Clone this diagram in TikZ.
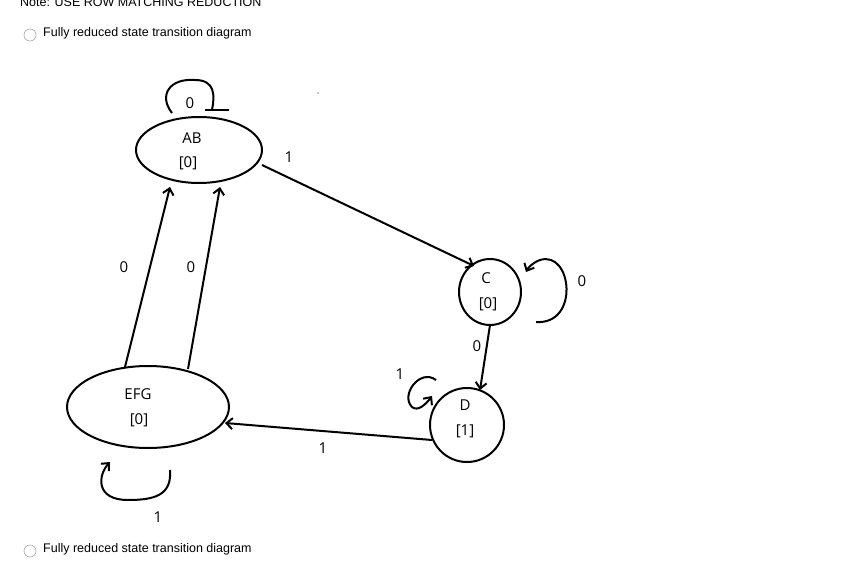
\documentclass[tikz,border=0pt]{standalone}
\usepackage{fontspec}
\setmainfont{Open Sans}
\newfontfamily\uifont{Liberation Sans}
\usetikzlibrary{arrows.meta}
\begin{document}
\begin{tikzpicture}[x=1pt,y=-1pt,
  st/.style={draw,line width=2pt},
  ed/.style={line width=2pt,-{Straight Barb[length=6pt,width=11pt]}},
  lb/.style={font=\fontsize{15}{17}\selectfont,inner sep=0pt},
  ui/.style={font=\uifont\fontsize{12.5}{14}\selectfont,anchor=west,inner sep=0pt},
  radio/.style={draw=gray!70,circle,minimum size=12pt,inner sep=0pt,line width=0.6pt}]
\useasboundingbox (0,0) rectangle (866,580);
\node[ui] (note) at (20,2) {Note: USE ROW MATCHING REDUCTION};
\node[radio] (r1) at (30,35) {};
\node[ui] (t1) at (43,33) {Fully reduced state transition diagram};
\node[radio] (r2) at (30,551) {};
\node[ui] (t2) at (43,549) {Fully reduced state transition diagram};
\fill (318,93) circle (0.7pt);
\draw[st] (199,150) ellipse (63 and 33);
\draw[st] (490,292) ellipse (31 and 33);
\draw[st] (467,425) ellipse (37 and 37);
\draw[st] (148,407) ellipse (81 and 41);
\node[lb] (ab) at (192,138) {AB}; \node[lb] (ab2) at (188,163) {[0]};
\node[lb] (c) at (486,278) {C}; \node[lb] (c2) at (488,304) {[0]};
\node[lb] (d) at (465,405) {D}; \node[lb] (d2) at (465,431) {[1]};
\node[lb] (e) at (138,394) {EFG}; \node[lb] (e2) at (139,420) {[0]};
\coordinate (a1) at (262,165); \coordinate (a2) at (474,266);
\draw[ed] (a1) -- (a2);
\node[lb] at (289,157) {1};
\coordinate (e1) at (125,367); \coordinate (b1) at (170,187);
\coordinate (e2) at (188,369); \coordinate (b2) at (220,187);
\draw[ed] (e1) -- (b1); \draw[ed] (e2) -- (b2);
\node[lb] at (124,267) {0}; \node[lb] at (191,267) {0};
\coordinate (c1) at (490,325); \coordinate (d1) at (480,390);
\draw[ed] (c1) -- (d1); \node[lb] at (477,346) {0};
\coordinate (d3) at (432,440); \coordinate (e3) at (225,423);
\draw[ed] (d3) -- (e3); \node[lb] at (323,448) {1};
% self loops
\draw[line width=2pt] (172,113) .. controls (158,95) and (170,78) .. (195,80) .. controls (215,80) and (215,95) .. (212,110);
\draw[line width=2pt] (205,110) -- (229,110);
\node[lb] at (190,103) {0};
\draw[ed] (536,322) .. controls (580,325) and (572,250) .. (540,260) .. controls (532,263) and (528,268) .. (526,272);
\node[lb] at (582,281) {0};
\draw[ed] (436,380) .. controls (420,368) and (400,395) .. (412,407) .. controls (418,412) and (426,404) .. (432,396);
\node[lb] at (400,374) {1};
\draw[ed] (170,470) .. controls (172,495) and (155,500) .. (128,500) .. controls (95,500) and (98,475) .. (110,462);
\node[lb] at (158,517) {1};
\end{tikzpicture}
\end{document}
